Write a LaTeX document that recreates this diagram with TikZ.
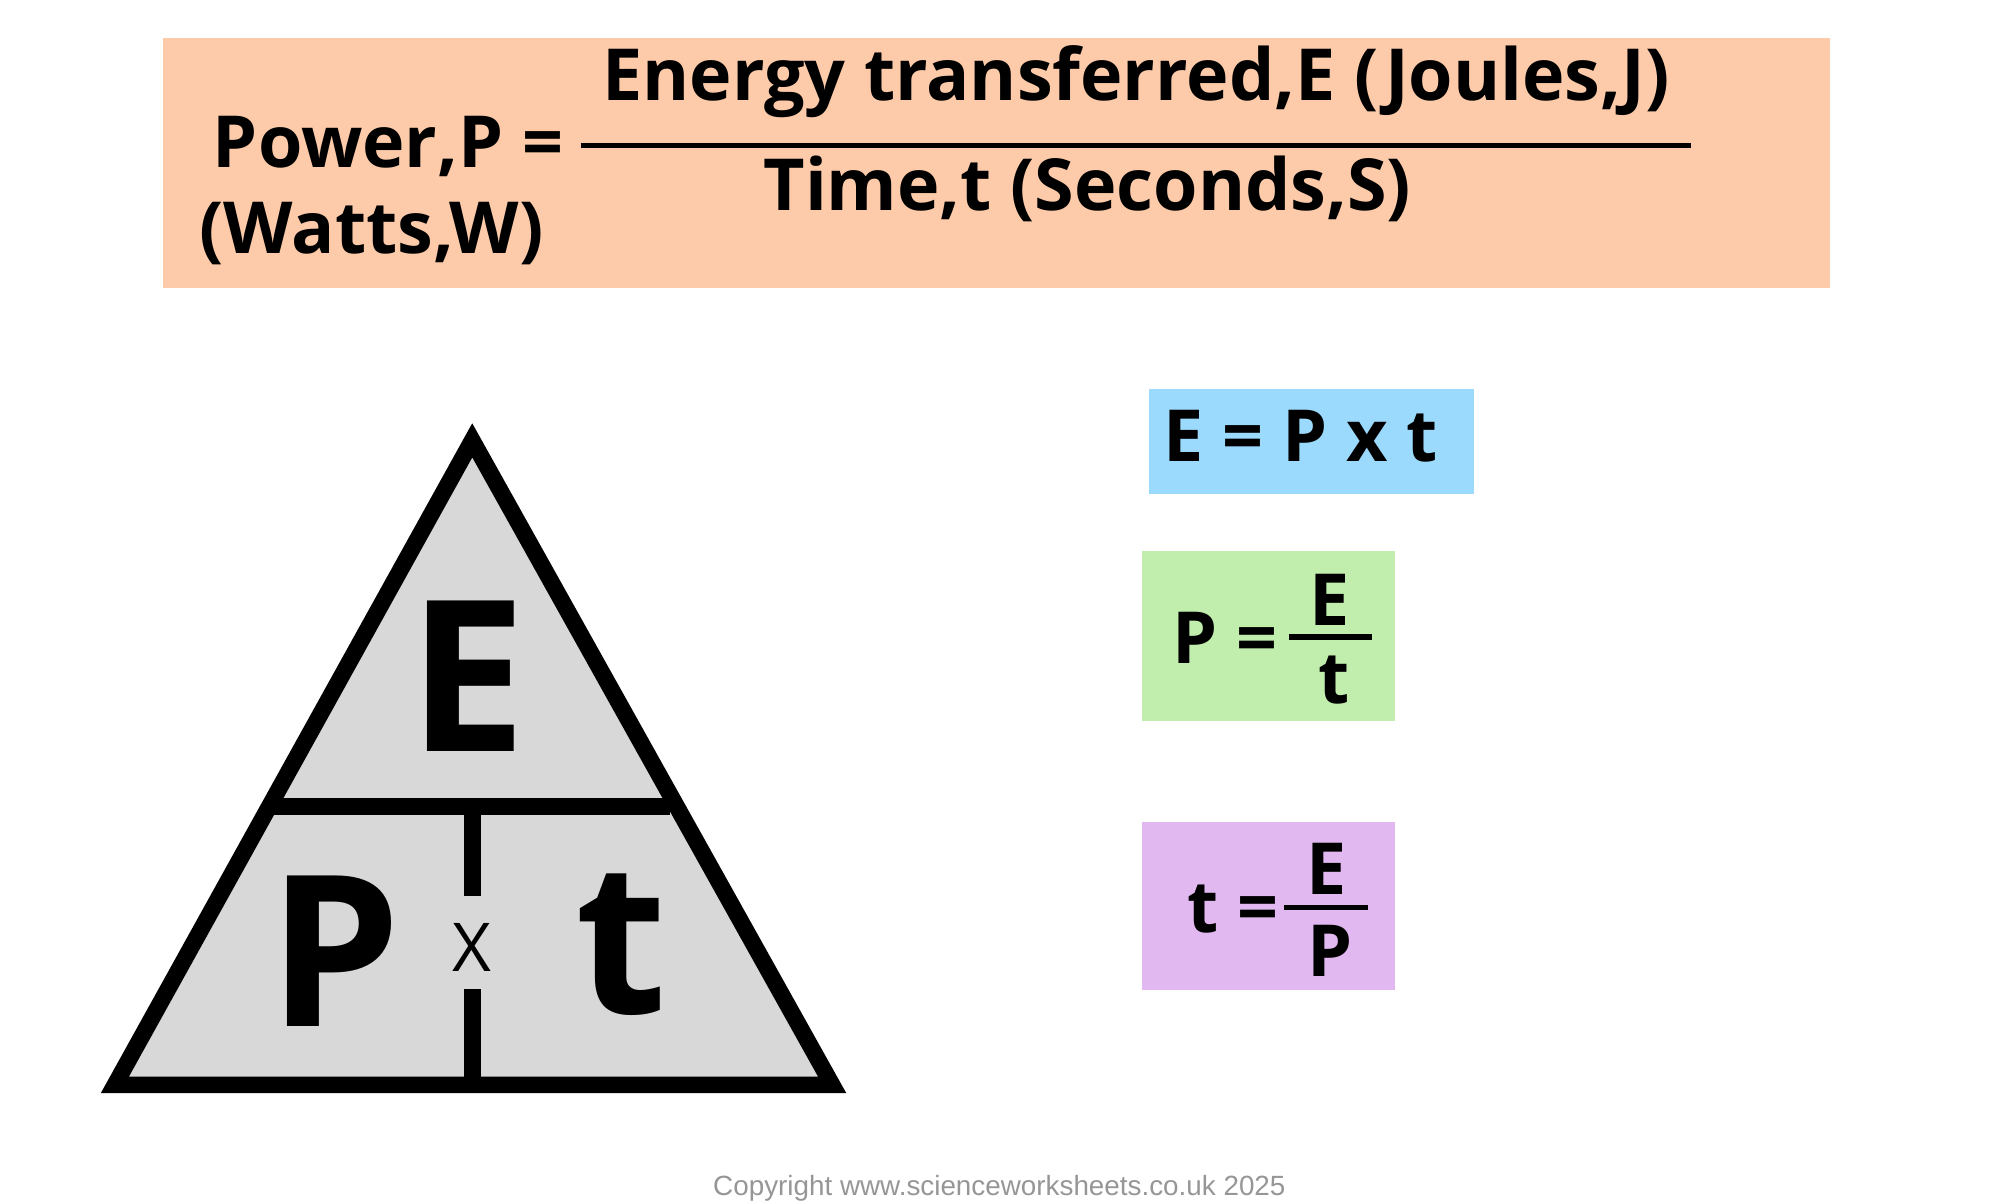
\documentclass[tikz,border=0pt]{standalone}
\usepackage{fontspec}
\setmainfont{Open Sans}
\newfontfamily\cpy{Liberation Sans}
\begin{document}
\begin{tikzpicture}[x=0.01cm,y=-0.01cm,
  bt/.style={font=\bfseries\fontsize{16}{18}\selectfont,inner sep=0pt},
  big/.style={font=\bfseries\fontsize{47}{50}\selectfont,inner sep=0pt}]
\useasboundingbox (0,0) rectangle (1567,942.6);
\fill[fill={rgb,255:red,253;green,203;blue,169}] (128,30) rectangle (1434,226);
\node[bt] (p1) at (304,115) {Power,P =};
\node[bt] (p2) at (291,183) {(Watts,W)};
\node[bt] (num) at (890,64) {Energy transferred,E (Joules,J)};
\node[bt] (den) at (852,148) {Time,t (Seconds,S)};
\draw[line width=1.3pt] (455,114) -- (1325,114);
% triangle
\fill[fill={rgb,255:red,216;green,216;blue,216}] (370,345) -- (90,850) -- (652,850) -- cycle;
\draw[line width=3.7pt] (370,345) -- (90,850) -- (652,850) -- cycle;
\draw[line width=3.7pt] (215,632) -- (525,632);
\draw[line width=3.7pt] (370,632) -- (370,702);
\draw[line width=3.7pt] (370,775) -- (370,846);
\node[big] (E) at (366,530) {E};
\node[big] (P) at (262,745) {P};
\node[big] (t) at (487,740) {t};
\node[inner sep=0pt,font=\fontsize{15}{18}\selectfont] (x) at (370,742) {X};
% boxes
\fill[fill={rgb,255:red,155;green,217;blue,253}] (900,305) rectangle (1155,387);
\node[bt] (f1) at (1019,342) {E = P x t};
\fill[fill={rgb,255:red,193;green,237;blue,173}] (895,432) rectangle (1093,565);
\node[bt] (f2a) at (960,500) {P =};
\node[bt] (f2b) at (1042,470) {E};
\node[bt] (f2c) at (1045,533) {t};
\draw[line width=1.3pt] (1010,499) -- (1075,499);
\fill[fill={rgb,255:red,226;green,184;blue,240}] (895,644) rectangle (1093,776);
\node[bt] (f3a) at (966,712) {t =};
\node[bt] (f3b) at (1039,681) {E};
\node[bt] (f3c) at (1042,745) {P};
\draw[line width=1.3pt] (1006,711) -- (1072,711);
\node[inner sep=0pt,text={rgb,255:red,150;green,150;blue,150},font=\cpy\fontsize{6.2}{8}\selectfont] (c) at (783,931) {Copyright www.scienceworksheets.co.uk 2025};
\end{tikzpicture}
\end{document}
